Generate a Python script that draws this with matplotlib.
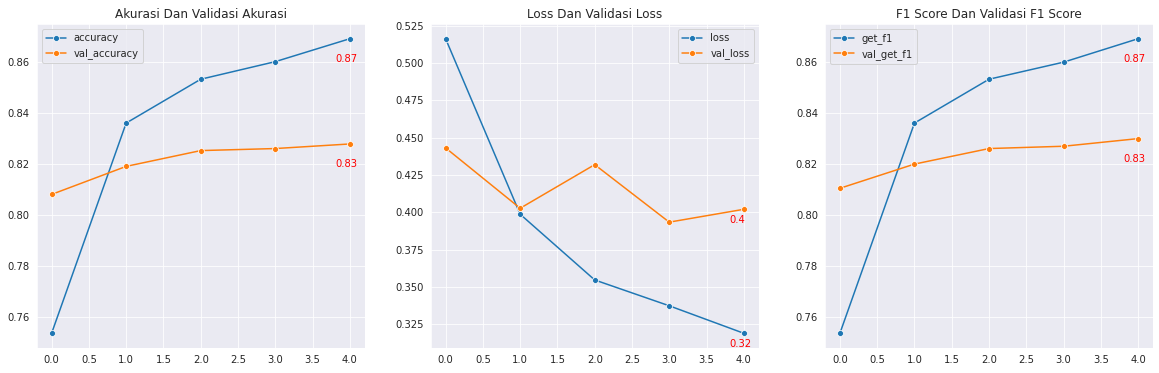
import matplotlib
matplotlib.use('Agg')
import matplotlib.pyplot as plt
import seaborn as sns

epochs = [0, 1, 2, 3, 4]

accuracy = [0.7535, 0.8360, 0.8532, 0.8601, 0.8691]
val_accuracy = [0.8080, 0.8190, 0.8252, 0.8260, 0.8278]

loss = [0.5162, 0.3987, 0.3547, 0.3374, 0.3190]
val_loss = [0.4431, 0.4027, 0.4319, 0.3934, 0.4020]

get_f1 = [0.7535, 0.8360, 0.8532, 0.8599, 0.8691]
val_get_f1 = [0.8104, 0.8199, 0.8260, 0.8269, 0.8299]

panels = [
    ("Akurasi Dan Validasi Akurasi", "accuracy", accuracy, "val_accuracy", val_accuracy, "upper left"),
    ("Loss Dan Validasi Loss", "loss", loss, "val_loss", val_loss, "upper right"),
    ("F1 Score Dan Validasi F1 Score", "get_f1", get_f1, "val_get_f1", val_get_f1, "upper left"),
]

sns.set_style('darkgrid')

fig = plt.figure(figsize=(1159 / 72, 373 / 72), dpi=72)
lefts = [36.7, 430.7, 825.0]
for left, (title, n1, s1, n2, s2, loc) in zip(lefts, panels):
    ax = fig.add_axes([left / 1159, 25 / 373, 328 / 1159, 324 / 373])
    ax.plot(epochs, s1, marker='o', color='#1f77b4', mec='white', mew=0.75, label=n1)
    ax.plot(epochs, s2, marker='o', color='#ff7f0e', mec='white', mew=0.75, label=n2)
    for s in (s1, s2):
        ax.text(epochs[-1] - 0.2, s[-1] - 0.009, round(s[-1], 2), color='red', fontsize=10)
    ax.set_title(title, fontsize=12)
    ax.legend(loc=loc)

plt.savefig('out.png', dpi=72)
